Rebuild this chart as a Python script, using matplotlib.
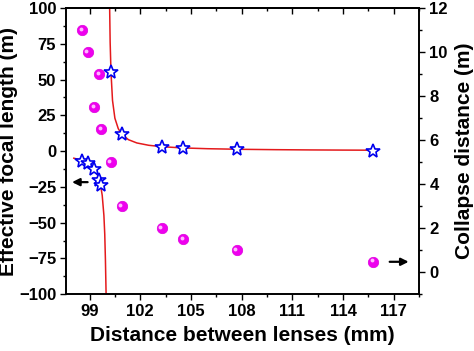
import numpy as np
import matplotlib
matplotlib.use("Agg")
import matplotlib.pyplot as plt
import matplotlib.transforms as mtransforms
from matplotlib.ticker import MultipleLocator

plt.rcParams['font.family'] = ['Liberation Sans', 'DejaVu Sans']
plt.rcParams['font.weight'] = 'bold'

# ------------------------------------------------------------
# Data
# ------------------------------------------------------------
# distance between lenses of the measured points (mm)
dist_pts = [98.58, 98.88, 99.29, 99.56, 99.70, 100.25, 100.91, 103.27, 104.54, 107.70, 115.78]
# effective focal length, measured (m) -> left axis
focal_pts = [-7.0, -8.6, -12.8, -20.0, -24.0, 55.0, 11.9, 3.0, 1.9, 1.2, 0.2]
# collapse distance (m) -> right axis
collapse_pts = [11.0, 10.0, 7.5, 9.0, 6.5, 5.0, 3.0, 2.0, 1.5, 1.0, 0.47]

# theoretical focal length curve, left branch
curve_left_x = [98.07, 98.5, 99.0, 99.3, 99.5, 99.65, 99.75, 99.85, 99.90, 99.94, 99.98]
curve_left_y = [-4.95, -6.3, -9.25, -12.9, -17.4, -23.6, -30.9, -45.0, -58.0, -76.0, -100.0]
# right branch
curve_right_x = [100.19, 100.22, 100.27, 100.36, 100.5, 100.7, 100.9, 101.3, 101.8, 102.5,
                 103.3, 104.5, 106.0, 108.0, 110.0, 112.0, 114.0, 115.8]
curve_right_y = [100.0, 76.0, 55.0, 35.4, 23.0, 15.7, 11.9, 8.0, 5.7, 4.07,
                 3.07, 2.23, 1.67, 1.25, 1.0, 0.83, 0.71, 0.63]

# ------------------------------------------------------------
# Figure
# ------------------------------------------------------------
fig = plt.figure(figsize=(4.74, 3.51), dpi=100)
ax = fig.add_axes([0.139, 0.162, 0.745, 0.815])
ax2 = ax.twinx()

red = '#e41a1c'
ax.plot(curve_left_x, curve_left_y, color=red, lw=1.1, zorder=2)
ax.plot(curve_right_x, curve_right_y, color=red, lw=1.1, zorder=2)
ax.plot(dist_pts, focal_pts, ls='none', marker='*', ms=10, mfc='white',
        mec='#0000ee', mew=1.2, zorder=4)

# spheres with a small highlight
ax2.plot(dist_pts, collapse_pts, ls='none', marker='o', ms=7.5, mfc='#ee00ee',
         mec='#dd00dd', mew=0.5, zorder=3)
hl = mtransforms.offset_copy(ax2.transData, fig=fig, x=-1.0, y=1.0, units='points')
ax2.plot(dist_pts, collapse_pts, ls='none', marker='o', ms=2.8, mfc='#ffb8ff',
         mec='none', transform=hl, zorder=4)

ax.set_xlim(97.6, 118.5)
ax.set_ylim(-100, 100)
ax2.set_ylim(-1, 12)

ax.xaxis.set_major_locator(MultipleLocator(3))
ax.xaxis.set_minor_locator(MultipleLocator(1.5))
ax.yaxis.set_major_locator(MultipleLocator(25))
ax.yaxis.set_minor_locator(MultipleLocator(12.5))
ax2.yaxis.set_major_locator(MultipleLocator(2))
ax2.yaxis.set_minor_locator(MultipleLocator(1))

ax.tick_params(axis='both', which='major', direction='out', length=4, width=1,
               labelsize=12, top=False, pad=3)
ax.tick_params(axis='both', which='minor', direction='out', length=2.5, width=1, top=False)
ax2.tick_params(axis='y', which='major', direction='out', length=4, width=1, labelsize=12)
ax2.tick_params(axis='y', which='minor', direction='out', length=2.5, width=1)

top = ax.secondary_xaxis('top')
top.xaxis.set_major_locator(MultipleLocator(3))
top.xaxis.set_minor_locator(MultipleLocator(1.5))
top.tick_params(which='major', direction='in', length=4, width=1, labeltop=False)
top.tick_params(which='minor', direction='in', length=2.5, width=1)
top.spines['top'].set_linewidth(1.2)

for a in (ax, ax2):
    for s in a.spines.values():
        s.set_linewidth(1.2)

for lab in ax.get_xticklabels() + ax.get_yticklabels() + ax2.get_yticklabels():
    lab.set_fontweight('bold')

ax.set_xlabel('Distance between lenses (mm)', fontsize=15, fontweight='bold', labelpad=5)
ax.set_ylabel('Effective focal length (m)', fontsize=15, fontweight='bold', labelpad=1)
ax2.set_ylabel('Collapse distance (m)', fontsize=15, fontweight='bold', labelpad=5)

# arrows pointing to the corresponding axis
ax.annotate('', xy=(97.8, -21.7), xytext=(99.05, -21.7),
            arrowprops=dict(arrowstyle='-|>', color='black', lw=1.6, mutation_scale=11))
ax2.annotate('', xy=(118.05, 0.47), xytext=(116.6, 0.47),
             arrowprops=dict(arrowstyle='-|>', color='black', lw=1.6, mutation_scale=11))

fig.savefig('out.png', dpi=100)
